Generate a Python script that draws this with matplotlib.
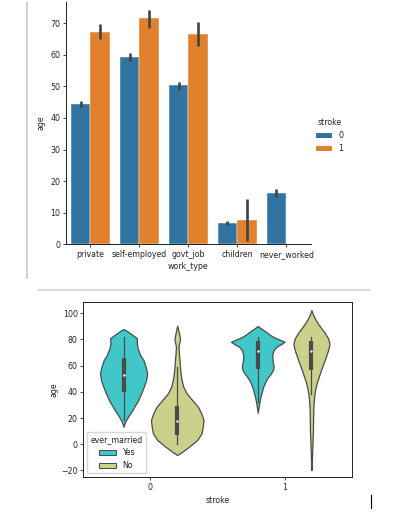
import colorsys
import numpy as np
import matplotlib
matplotlib.use("Agg")
import matplotlib.pyplot as plt
from matplotlib.patches import Patch
from matplotlib.lines import Line2D

# ---- bar chart data (mean age by work type and stroke) ----
work_types = ['private', 'self-employed', 'govt_job', 'children', 'never_worked']
stroke_levels = ['0', '1']
age_stroke0 = [44.3, 59.3, 50.3, 6.8, 16.3]
age_stroke1 = [67.3, 71.6, 66.5, 7.6, np.nan]
ci_low0 = [43.4, 57.9, 48.7, 6.2, 14.9]
ci_high0 = [45.3, 60.5, 51.5, 7.3, 17.4]
ci_low1 = [64.9, 68.4, 62.8, 0.9, np.nan]
ci_high1 = [69.6, 74.2, 70.3, 14.3, np.nan]

# ---- violin data (age profiles) ----
married_levels = ['Yes', 'No']
# stroke 0, married Yes
v_yes0_age = [88, 86.5, 84.7, 80.9, 77.1, 73.3, 68, 64.3, 59, 54.1, 49, 43.9, 38.8, 33.7, 30, 26.1, 21, 17.1, 13.3]
v_yes0_w = [0, 0.025, 0.05, 0.10, 0.098, 0.105, 0.125, 0.148, 0.165, 0.176, 0.168, 0.151, 0.131, 0.109, 0.088, 0.066, 0.033, 0.012, 0]
# stroke 0, married No
v_no0_age = [90.5, 87, 84.7, 81, 79.6, 77, 74.5, 70, 64.3, 59, 54.1, 49, 43.9, 38.8, 33.7, 28.6, 23.6, 18.4, 13.3, 8.3, 3.2, -2, -5.8, -8.3]
v_no0_w = [0, 0.008, 0.013, 0.02, 0.02, 0.014, 0.01, 0.012, 0.017, 0.021, 0.025, 0.033, 0.045, 0.07, 0.112, 0.154, 0.179, 0.196, 0.19, 0.181, 0.149, 0.087, 0.037, 0]
# stroke 1, married Yes
v_yes1_age = [90.3, 88, 86, 84, 82, 80, 78.3, 76.5, 74.5, 72, 68, 64, 60, 57, 54, 51, 48, 44, 40, 36, 32, 28, 24]
v_yes1_w = [0, 0.03, 0.06, 0.085, 0.115, 0.16, 0.2, 0.175, 0.14, 0.118, 0.108, 0.11, 0.118, 0.115, 0.098, 0.075, 0.058, 0.041, 0.03, 0.02, 0.012, 0.006, 0]
# stroke 1, married No
v_no1_age = [102.5, 99, 96.2, 91.1, 85.9, 80.9, 77.1, 74, 70.6, 67, 63, 59, 55.4, 51, 47.7, 44, 40.1, 35, 29.9, 23, 17.1, 10, 4.4, -1, -5.8, -10, -14.7, -19.8]
v_no1_w = [0, 0.012, 0.025, 0.055, 0.094, 0.124, 0.134, 0.13, 0.12, 0.108, 0.094, 0.08, 0.067, 0.053, 0.042, 0.033, 0.025, 0.019, 0.015, 0.013, 0.012, 0.011, 0.009, 0.007, 0.005, 0.004, 0.002, 0]

# box stats: q1, median, q3, whisker low, whisker high
box_yes0 = [40, 53, 66, 18.5, 82]
box_no0 = [7, 18, 29.5, 0.1, 59]
box_yes1 = [57.5, 71, 79, 32, 82]
box_no1 = [57, 71, 79, 38, 82]


def desat(rgb, prop=0.75):
    h, l, s = colorsys.rgb_to_hls(*rgb)
    return colorsys.hls_to_rgb(h, l, s * prop)


cmap = plt.get_cmap('rainbow')
c_yes = desat(cmap(1 / 3)[:3])
c_no = desat(cmap(2 / 3)[:3])
c_blue = '#3274a1'
c_orange = '#e1812c'
gray = '#4a4a4a'

fs = 5.7
plt.rcParams['font.family'] = 'DejaVu Sans'
plt.rcParams['font.size'] = fs
plt.rcParams['axes.labelsize'] = fs
plt.rcParams['xtick.labelsize'] = fs
plt.rcParams['ytick.labelsize'] = fs
plt.rcParams['text.color'] = '#262626'
plt.rcParams['axes.labelcolor'] = '#262626'
plt.rcParams['xtick.color'] = '#262626'
plt.rcParams['ytick.color'] = '#262626'
plt.rcParams['axes.edgecolor'] = '#262626'
plt.rcParams['axes.linewidth'] = 0.72
plt.rcParams['xtick.major.width'] = 0.6
plt.rcParams['ytick.major.width'] = 0.6
plt.rcParams['xtick.major.size'] = 2.0
plt.rcParams['ytick.major.size'] = 2.0
plt.rcParams['xtick.major.pad'] = 2.0
plt.rcParams['ytick.major.pad'] = 2.0

W, H = 418, 514
fig = plt.figure(figsize=(W / 100, H / 100), dpi=100)

# jupyter cell decorations
fig.add_artist(Line2D([27 / W, 27 / W], [1 - 3 / H, 1 - 278 / H], color='#d0d0d0', lw=1.4))
fig.add_artist(Line2D([39 / W, 369 / W], [1 - 290 / H, 1 - 290 / H], color='#dcdcdc', lw=1.6))
fig.add_artist(Line2D([370.7 / W, 370.7 / W], [1 - 495 / H, 1 - 508 / H], color='black', lw=0.8))

# ---------------- top: bar chart ----------------
ax1 = fig.add_axes([65.8 / W, 1 - 244.3 / H, 245 / W, 242.3 / H])
x = np.arange(len(work_types))
bw = 0.4
for vals, lo, hi, col, off in [(age_stroke0, ci_low0, ci_high0, c_blue, -0.2),
                               (age_stroke1, ci_low1, ci_high1, c_orange, 0.2)]:
    for i in range(len(work_types)):
        if np.isnan(vals[i]):
            continue
        ax1.bar(x[i] + off, vals[i], width=bw, color=col, edgecolor='white', linewidth=0.3)
        ax1.plot([x[i] + off, x[i] + off], [lo[i], hi[i]], color='#424242', lw=1.9,
                 solid_capstyle='butt')
ax1.set_xlim(-0.5, 4.5)
ax1.set_ylim(0, 76.7)
ax1.set_xticks(x)
ax1.set_xticklabels(work_types)
ax1.set_yticks(np.arange(0, 71, 10))
ax1.set_xlabel('work_type', labelpad=2)
ax1.set_ylabel('age', labelpad=3.5)
ax1.spines['top'].set_visible(False)
ax1.spines['right'].set_visible(False)

handles = [Patch(facecolor=c_blue), Patch(facecolor=c_orange)]
fig.legend(handles, stroke_levels, title='stroke', frameon=False,
           loc='center left', bbox_to_anchor=(309 / W, 1 - 135.5 / H),
           fontsize=fs, title_fontsize=fs, handlelength=2.0, handleheight=0.55,
           labelspacing=0.55, handletextpad=0.8)

# ---------------- bottom: violin plot ----------------
ax2 = fig.add_axes([83.3 / W, 1 - 477.3 / H, 268.4 / W, 175 / H])
violins = [
    (0, -0.2, v_yes0_age, v_yes0_w, box_yes0, c_yes),
    (0, 0.2, v_no0_age, v_no0_w, box_no0, c_no),
    (1, -0.2, v_yes1_age, v_yes1_w, box_yes1, c_yes),
    (1, 0.2, v_no1_age, v_no1_w, box_no1, c_no),
]
for cat, off, ages, widths, box, col in violins:
    c = cat + off
    a = np.array(ages)
    w = np.array(widths)
    ax2.fill_betweenx(a, c - w, c + w, facecolor=col, edgecolor=gray, linewidth=0.9, zorder=1)
    q1, med, q3, wlo, whi = box
    ax2.plot([c, c], [wlo, whi], color=gray, lw=0.9, zorder=2)
    ax2.plot([c, c], [q1, q3], color=gray, lw=3.0, solid_capstyle='butt', zorder=2)
    ax2.scatter([c], [med], s=3, color='white', zorder=3, linewidths=0)

ax2.set_xlim(-0.5, 1.5)
ax2.set_ylim(-25.3, 108.4)
ax2.set_xticks([0, 1])
ax2.set_xticklabels(['0', '1'])
ax2.set_yticks(np.arange(-20, 101, 20))
ax2.set_xlabel('stroke', labelpad=3)
ax2.set_ylabel('age', labelpad=2)

vh = [Patch(facecolor=c_yes, edgecolor=gray, linewidth=0.7),
      Patch(facecolor=c_no, edgecolor=gray, linewidth=0.7)]
ax2.legend(vh, married_levels, title='ever_married', loc='lower left',
           fontsize=fs, title_fontsize=fs, handlelength=2.15, handleheight=0.67,
           borderaxespad=0.5)

fig.savefig('out.png', dpi=100)
